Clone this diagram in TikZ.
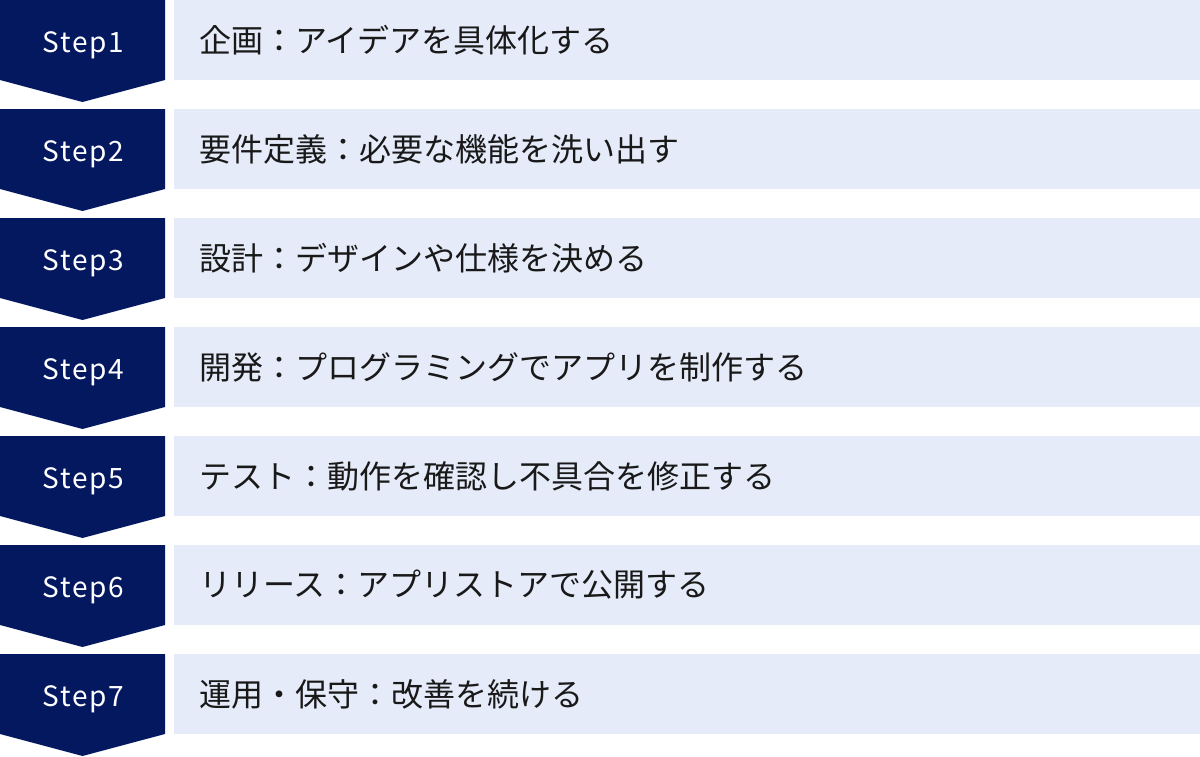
\documentclass[tikz,border=0pt]{standalone}
\usepackage{fontspec}
\newfontfamily\jp{Noto Sans CJK JP}
\newfontfamily\jpsp[LetterSpace=6]{Noto Sans CJK JP}
\definecolor{navy}{RGB}{4,24,96}
\definecolor{pale}{RGB}{229,235,249}
\begin{document}
\begin{tikzpicture}[x=1pt,y=1pt,
  chev/.style={fill=navy,draw=none},
  box/.style={fill=pale,draw=none,anchor=north west,minimum width=1026pt,minimum height=80pt,inner sep=0pt,outer sep=0pt},
  steplbl/.style={text=white,font=\jpsp\fontsize{28}{28}\selectfont,inner sep=0pt,anchor=base},
  desc/.style={text=black!90,font=\jp\fontsize{32}{32}\selectfont,inner sep=0pt,anchor=west}]
\useasboundingbox (0,0) rectangle (1200,-756);
\foreach \i/\t in {1/企画：アイデアを具体化する,
                   2/要件定義：必要な機能を洗い出す,
                   3/設計：デザインや仕様を決める,
                   4/開発：プログラミングでアプリを制作する,
                   5/テスト：動作を確認し不具合を修正する,
                   6/リリース：アプリストアで公開する,
                   7/運用・保守：改善を続ける}{
  \pgfmathsetmacro{\yy}{-109*(\i-1)}
  \fill[chev] (0,\yy) -- (165,\yy) -- (165,\yy-80) -- (82.5,\yy-102) -- (0,\yy-80) -- cycle;
  \node[steplbl] (s\i) at (83.5,\yy-52) {Step\i};
  \node[box] (b\i) at (174,\yy) {};
  \node[desc] (t\i) at (199,\yy-40) {\t};
}
\end{tikzpicture}
\end{document}
